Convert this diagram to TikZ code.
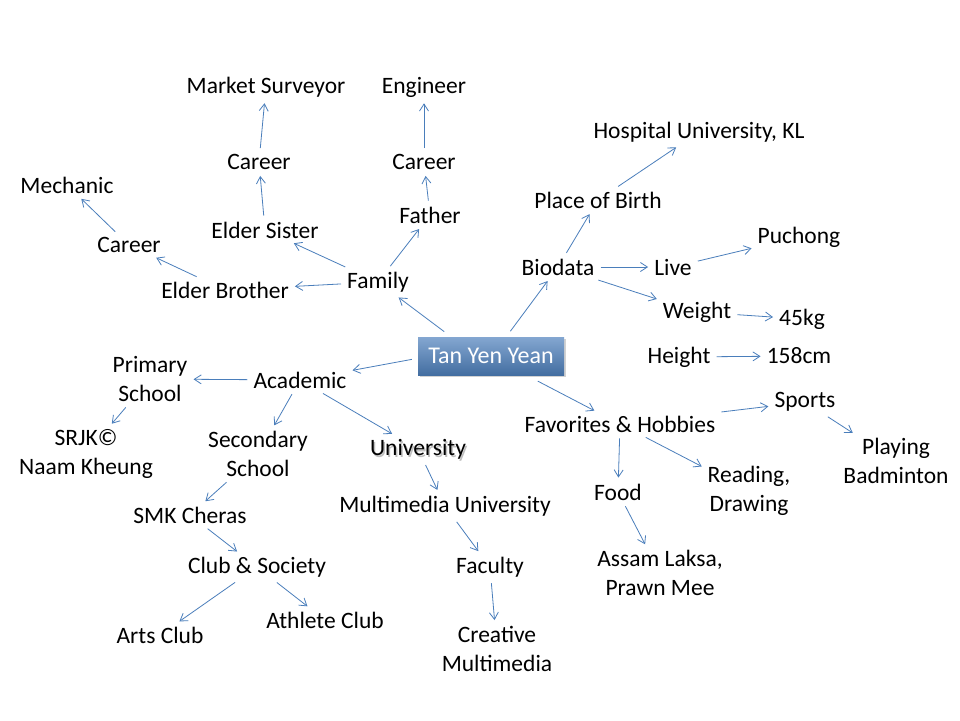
\documentclass[tikz,border=0pt]{standalone}
\usepackage{fontspec}
\setmainfont{Carlito}
\usetikzlibrary{arrows.meta,shadows}
\definecolor{ar}{HTML}{4A7EBB}
\definecolor{bx}{HTML}{4F81BD}
\begin{document}
\begin{tikzpicture}[x=1pt,y=-1pt,
  every node/.style={font=\fontsize{23.5}{29}\selectfont,align=center,inner sep=4pt},
  ar/.style={draw=ar,line width=0.8pt,-{Straight Barb[length=7pt,width=9pt]},shorten >=2pt,shorten <=2pt}]
\useasboundingbox (0,0) rectangle (960,720);
\fill[white] (0,0) rectangle (960,720);
\node[fill=bx,text=white,minimum width=146pt,minimum height=38pt,inner sep=2pt,
  top color=bx!70!white,bottom color=bx!85!black,drop shadow={opacity=0.35},
  font=\fontsize{24}{29}\selectfont] (c) at (491,356) {Tan Yen Yean};
\node (fam) at (378,282) {Family};
\node (fat) at (430,215) {Father};
\node (car2) at (424,162) {Career};
\node (eng) at (424,87) {Engineer};
\node (es) at (265,230) {Elder Sister};
\node (car1) at (259,162) {Career};
\node (ms) at (266,87) {Market Surveyor};
\node (eb) at (225,290) {Elder Brother};
\node (car3) at (129,245) {Career};
\node (mec) at (67,185) {Mechanic};
\node (bio) at (558,267) {Biodata};
\node (pob) at (598,200) {Place of Birth};
\node (hos) at (699,132) {Hospital University, KL};
\node (live) at (673,267) {Live};
\node (puc) at (799,237) {Puchong};
\node (wei) at (697,312) {Weight};
\node (kg) at (802,319) {45kg};
\node (hei) at (679,357) {Height};
\node (cm) at (799,356) {158cm};
\node (aca) at (300,380) {Academic};
\node (pri) at (150,379) {Primary\\School};
\node (srj) at (86,454) {SRJK©\\Naam Kheung};
\node (sec) at (258,454) {Secondary\\School};
\node (smk) at (190,515) {SMK Cheras};
\node (club) at (257,567) {Club \& Society};
\node (arts) at (160,635) {Arts Club};
\node (ath) at (325,620) {Athlete Club};
\node[text=black!25] at (419.5,451) {University};
\node (uni) at (418,449) {University};
\node (mmu) at (445,506) {Multimedia University};
\node (fac) at (490,567) {Faculty};
\node (cre) at (497,649) {Creative\\Multimedia};
\node (favh) at (620,424) {Favorites \& Hobbies};
\node (spo) at (805,402) {Sports};
\node (pla) at (896,461) {Playing\\Badminton};
\node (rea) at (749,491) {Reading,\\Drawing};
\node (foo) at (618,492) {Food};
\node (ass) at (660,573) {Assam Laksa,\\Prawn Mee};
\draw[ar] (c.north west)++(28,-4) -- (fam);
\draw[ar] (c.north east)++(-55,-4) -- (bio);
\draw[ar] (c.west)++(-4,3) -- (aca);
\draw[ar] (c.south)++(45,5) -- (favh);
\draw[ar] (fam) -- (fat);
\draw[ar] (fam) -- (es);
\draw[ar] (fam) -- (eb);
\draw[ar] (fat) -- (car2);
\draw[ar] (car2) -- (eng);
\draw[ar] (es) -- (car1);
\draw[ar] (car1) -- (ms);
\draw[ar] (eb) -- (car3);
\draw[ar] (car3) -- (mec);
\draw[ar] (bio) -- (pob);
\draw[ar] (pob) -- (hos);
\draw[ar] (bio) -- (live);
\draw[ar] (live) -- (puc);
\draw[ar] (bio) -- (wei);
\draw[ar] (wei) -- (kg);
\draw[ar] (hei) -- (cm);
\draw[ar] (aca) -- (pri);
\draw[ar] (pri) -- (srj);
\draw[ar] (aca) -- (sec);
\draw[ar] (sec) -- (smk);
\draw[ar] (smk) -- (club);
\draw[ar] (club) -- (arts);
\draw[ar] (club) -- (ath);
\draw[ar] (aca) -- (uni);
\draw[ar] (uni) -- (mmu);
\draw[ar] (mmu) -- (fac);
\draw[ar] (fac) -- (cre);
\draw[ar] (favh) -- (spo);
\draw[ar] (spo) -- (pla);
\draw[ar] (favh) -- (rea);
\draw[ar] (favh) -- (foo);
\draw[ar] (foo) -- (ass);
\end{tikzpicture}
\end{document}
